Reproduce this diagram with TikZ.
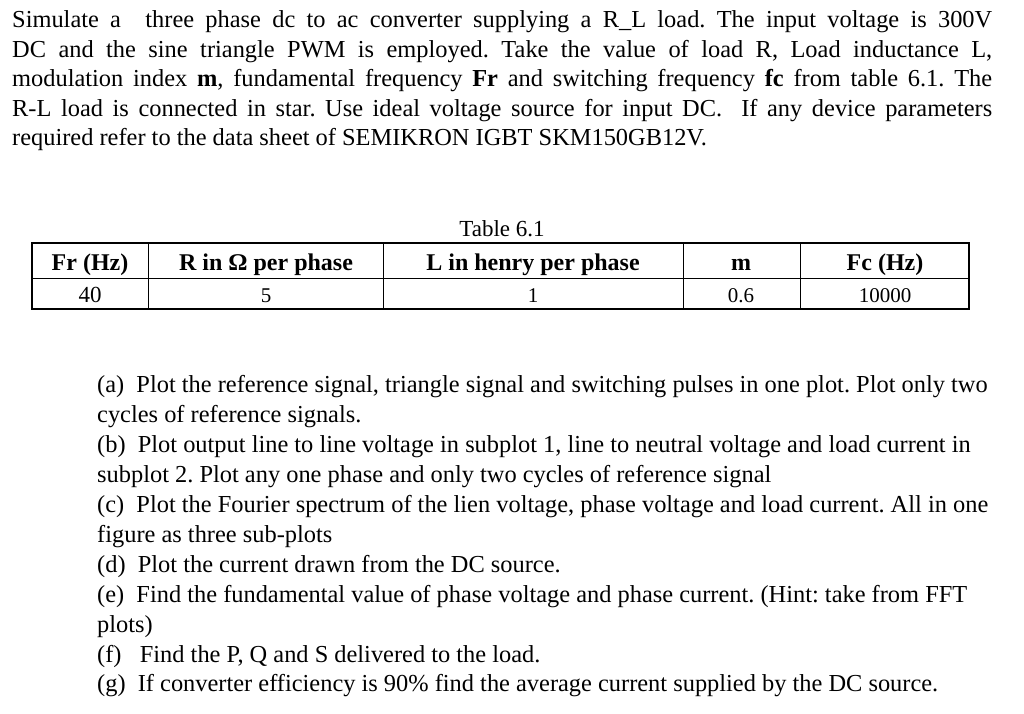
\documentclass[tikz,border=0pt]{standalone}
\usepackage{fontspec}
\setmainfont{Liberation Serif}
\frenchspacing
\begin{document}
\begin{tikzpicture}[x=1pt,y=-1pt,
  txt/.style={anchor=base west,inner sep=0pt,font=\fontsize{24.4}{28}\selectfont},
  cell/.style={anchor=base,inner sep=0pt,font=\fontsize{24}{28}\selectfont\bfseries},
  num/.style={anchor=base,inner sep=0pt,font=\fontsize{21}{24}\selectfont}]
\useasboundingbox (0,0) rectangle (1024,713);
\def\J#1{\makebox[980pt][s]{#1}}
\node[txt] (p1) at (12,27) {\J{Simulate a\quad three phase dc to ac converter supplying a R\_L load. The input voltage is 300V}};
\node[txt] (p2) at (12,57) {\J{DC and the sine triangle PWM is employed. Take the value of load R, Load inductance L,}};
\node[txt] (p3) at (12,86) {\J{modulation index \textbf{m}, fundamental frequency \textbf{Fr} and switching frequency \textbf{fc} from table 6.1. The}};
\node[txt] (p4) at (12,116) {\J{R-L load is connected in star. Use ideal voltage source for input DC.\ \ If any device parameters}};
\node[txt] (p5) at (12,145) {required refer to the data sheet of SEMIKRON IGBT SKM150GB12V.};
\node[anchor=base,inner sep=0pt,font=\fontsize{23}{26}\selectfont] (tt) at (502,236) {Table 6.1};
\draw[line width=1.2pt] (32,243) rectangle (969,309);
\draw[line width=1pt] (32,278) -- (969,278);
\foreach \x in {148,383,683,800} \draw[line width=1pt] (\x,243) -- (\x,309);
\node[cell] (h1) at (90,270) {Fr (Hz)};
\node[cell] (h2) at (266,270) {R in Ω per phase};
\node[cell] (h3) at (533,270) {L in henry per phase};
\node[cell] (h4) at (741,270) {m};
\node[cell] (h5) at (885,270) {Fc (Hz)};
\node[num,font=\fontsize{23}{26}\selectfont] (v1) at (90,302) {40};
\node[num] (v2) at (266,302) {5};
\node[num] (v3) at (533,302) {1};
\node[num] (v4) at (741,302) {0.6};
\node[num] (v5) at (885,302) {10000};
\node[txt] (a1) at (97,392) {(a)\ \ Plot the reference signal, triangle signal and switching pulses in one plot. Plot only two};
\node[txt] (a2) at (97,422) {cycles of reference signals.};
\node[txt] (b1) at (97,452) {(b)\ \ Plot output line to line voltage in subplot 1, line to neutral voltage and load current in};
\node[txt] (b2) at (97,482) {subplot 2. Plot any one phase and only two cycles of reference signal};
\node[txt] (c1) at (97,512) {(c)\ \ Plot the Fourier spectrum of the lien voltage, phase voltage and load current. All in one};
\node[txt] (c2) at (97,542) {figure as three sub-plots};
\node[txt] (d1) at (97,572) {(d)\ \ Plot the current drawn from the DC source.};
\node[txt] (e1) at (97,602) {(e)\ \ Find the fundamental value of phase voltage and phase current. (Hint: take from FFT};
\node[txt] (e2) at (97,632) {plots)};
\node[txt] (f1) at (97,662) {(f)\ \ \ Find the P, Q and S delivered to the load.};
\node[txt] (g1) at (97,691) {(g)\ \ If converter efficiency is 90\% find the average current supplied by the DC source.};
\end{tikzpicture}
\end{document}
